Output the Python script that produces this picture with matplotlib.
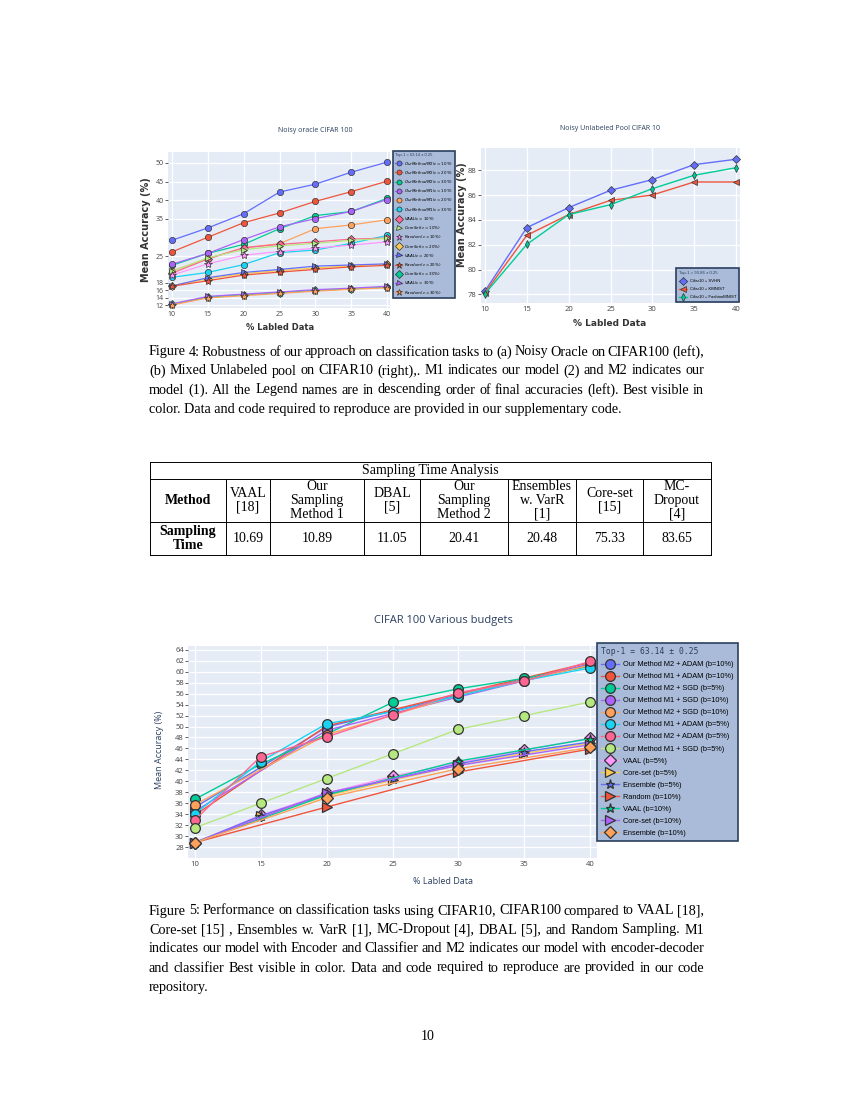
import matplotlib
matplotlib.use("Agg")
import matplotlib.pyplot as plt

# plotly default palette / template colours
PLOTLY = ['#636EFA', '#EF553B', '#00CC96', '#AB63FA', '#FFA15A',
          '#19D3F3', '#FF6692', '#B6E880', '#FF97FF', '#FECB52']
BG = '#E5ECF6'
LEG_BG = '#A9BBD8'
INK = '#2a3f5f'
EDGE = '#333333'
SERIF = 'Liberation Serif'
SANS = 'Open Sans'
LEGF = 'Liberation Sans'

# ---------------- Figure 4 (left): noisy oracle CIFAR 100 ----------------
noisy_x = [10, 15, 20, 25, 30, 35, 40]
noisy_m2_10 = [29.3, 32.6, 36.4, 42.2, 44.3, 47.5, 50.2]
noisy_m2_20 = [26.2, 30.1, 34.0, 36.6, 39.7, 42.3, 45.1]
noisy_m2_30 = [22.6, 25.8, 28.2, 32.4, 35.9, 37.0, 40.5]
noisy_m1_10 = [22.9, 25.8, 29.5, 32.9, 35.1, 37.0, 40.2]
noisy_m1_20 = [21.1, 24.4, 27.3, 28.4, 32.4, 33.4, 34.8]
noisy_m1_30 = [19.4, 20.7, 22.8, 26.0, 26.7, 28.5, 30.6]
noisy_vaal_10 = [20.5, 24.3, 27.3, 28.2, 28.9, 29.6, 29.9]
noisy_core_10 = [21.0, 24.6, 26.8, 27.8, 28.5, 29.3, 29.8]
noisy_rand_10 = [20.0, 23.0, 25.3, 26.3, 27.2, 28.0, 28.9]
noisy_core_20 = [17.2, 19.0, 20.4, 21.2, 21.9, 22.5, 22.9]
noisy_vaal_20 = [17.1, 19.3, 20.7, 21.5, 22.4, 22.7, 23.0]
noisy_rand_20 = [17.0, 18.5, 20.0, 20.8, 21.5, 22.2, 22.6]
noisy_core_30 = [12.2, 14.1, 14.7, 15.3, 15.9, 16.3, 16.8]
noisy_vaal_30 = [12.3, 14.3, 14.9, 15.5, 16.1, 16.5, 17.0]
noisy_rand_30 = [12.0, 13.9, 14.5, 15.1, 15.7, 16.2, 16.6]
noisy_labels = [r'$Our Method M2 (\epsilon = 10\%)$', r'$Our Method M2 (\epsilon = 20\%)$',
                r'$Our Method M2 (\epsilon = 30\%)$', r'$Our Method M1 (\epsilon = 10\%)$',
                r'$Our Method M1 (\epsilon = 20\%)$', r'$Our Method M1 (\epsilon = 30\%)$',
                r'$VAAL (\epsilon = 10\%)$', r'$Core Set (\epsilon = 10\%)$',
                r'$Random (\epsilon = 10\%)$', r'$Core Set (\epsilon = 20\%)$',
                r'$VAAL (\epsilon = 20\%)$', r'$Random (\epsilon = 20\%)$',
                r'$Core Set (\epsilon = 30\%)$', r'$VAAL (\epsilon = 30\%)$',
                r'$Random (\epsilon = 30\%)$']
noisy_series = [noisy_m2_10, noisy_m2_20, noisy_m2_30, noisy_m1_10, noisy_m1_20,
                noisy_m1_30, noisy_vaal_10, noisy_core_10, noisy_rand_10,
                noisy_core_20, noisy_vaal_20, noisy_rand_20,
                noisy_core_30, noisy_vaal_30, noisy_rand_30]
noisy_markers = ['o'] * 6 + ['D', '>', '*'] * 3
noisy_yticks = [12, 14, 16, 18, 25, 35, 40, 45, 50]

# ---------------- Figure 4 (right): noisy unlabeled pool CIFAR 10 ----------------
pool_x = [10, 15, 20, 25, 30, 35, 40]
pool_svhn = [78.27, 83.38, 84.99, 86.39, 87.25, 88.46, 88.89]
pool_kmnist = [78.13, 82.76, 84.43, 85.58, 86.01, 87.06, 87.06]
pool_fashion = [78.05, 82.03, 84.43, 85.23, 86.52, 87.60, 88.21]
pool_labels = ['Cifar10 + SVHN', 'Cifar10 + KMNIST', 'Cifar10 + FashionMNIST']

# ---------------- Table ----------------
table_title = 'Sampling Time Analysis'
table_methods = ['VAAL\n[18]', 'Our\nSampling\nMethod 1', 'DBAL\n[5]',
                 'Our\nSampling\nMethod 2', 'Ensembles\nw. VarR\n[1]',
                 'Core-set\n[15]', 'MC-\nDropout\n[4]']
table_times = [10.69, 10.89, 11.05, 20.41, 20.48, 75.33, 83.65]

# ---------------- Figure 5: CIFAR 100 various budgets ----------------
budget_x5 = [10, 15, 20, 25, 30, 35, 40]
budget_x10 = [10, 20, 30, 40]
m2_adam_10 = [35.2, 49.9, 55.8, 61.4]
m1_adam_10 = [33.8, 50.1, 56.0, 61.7]
m2_sgd_5 = [36.7, 43.1, 48.6, 54.4, 56.9, 58.8, 61.0]
m1_sgd_10 = [34.5, 49.3, 55.4, 61.3]
m2_sgd_10 = [35.7, 48.5, 55.7, 61.2]
m1_adam_5 = [34.0, 43.6, 50.5, 52.7, 55.6, 58.4, 60.7]
m2_adam_5 = [32.9, 44.5, 48.1, 52.1, 56.2, 58.3, 61.9]
m1_sgd_5 = [31.5, 36.0, 40.5, 45.0, 49.5, 52.0, 54.5]
vaal_5 = [28.8, 33.8, 37.8, 40.9, 43.4, 45.7, 47.9]
coreset_5 = [28.8, 33.6, 37.3, 40.2, 42.9, 45.1, 47.0]
ensemble_5 = [28.8, 33.7, 37.6, 40.4, 43.2, 45.4, 47.2]
random_10 = [28.8, 35.3, 41.7, 45.9]
vaal_10 = [28.8, 37.5, 43.7, 47.8]
coreset_10 = [28.8, 37.9, 42.9, 46.7]
ensemble_10 = [28.8, 37.0, 42.3, 46.2]
budget_labels = ['Our Method M2 + ADAM (b=10%)', 'Our Method M1 + ADAM (b=10%)',
                 'Our Method M2 + SGD (b=5%)', 'Our Method M1 + SGD (b=10%)',
                 'Our Method M2 + SGD (b=10%)', 'Our Method M1 + ADAM (b=5%)',
                 'Our Method M2 + ADAM (b=5%)', 'Our Method M1 + SGD (b=5%)',
                 'VAAL (b=5%)', 'Core-set (b=5%)', 'Ensemble (b=5%)',
                 'Random (b=10%)', 'VAAL (b=10%)', 'Core-set (b=10%)',
                 'Ensemble (b=10%)']
budget_series = [(budget_x10, m2_adam_10), (budget_x10, m1_adam_10),
                 (budget_x5, m2_sgd_5), (budget_x10, m1_sgd_10),
                 (budget_x10, m2_sgd_10), (budget_x5, m1_adam_5),
                 (budget_x5, m2_adam_5), (budget_x5, m1_sgd_5),
                 (budget_x5, vaal_5), (budget_x5, coreset_5), (budget_x5, ensemble_5),
                 (budget_x10, random_10), (budget_x10, vaal_10),
                 (budget_x10, coreset_10), (budget_x10, ensemble_10)]
budget_markers = ['o'] * 8 + ['D', '>', '*', '>', '*', '>', 'D']

caption4 = ['Figure 4: Robustness of our approach on classification tasks to (a) Noisy Oracle on CIFAR100 (left),',
            '(b) Mixed Unlabeled pool on CIFAR10 (right),. M1 indicates our model (2) and M2 indicates our',
            'model (1). All the Legend names are in descending order of final accuracies (left). Best visible in',
            'color. Data and code required to reproduce are provided in our supplementary code.']
caption5 = ['Figure 5: Performance on classification tasks using CIFAR10, CIFAR100 compared to VAAL [18],',
            'Core-set [15] , Ensembles w. VarR [1], MC-Dropout [4], DBAL [5], and Random Sampling. M1',
            'indicates our model with Encoder and Classifier and M2 indicates our model with encoder-decoder',
            'and classifier Best visible in color. Data and code required to reproduce are provided in our code',
            'repository.']

W, H = 850, 1100
fig = plt.figure(figsize=(8.5, 11), dpi=100)
fig.patch.set_facecolor('white')

# page axes in pixel coordinates for captions, table and chart titles
pg = fig.add_axes([0, 0, 1, 1], zorder=0)
pg.set_xlim(0, W)
pg.set_ylim(H, 0)
pg.axis('off')


def rect(l, t, r, b):
    return [l / W, 1 - b / H, (r - l) / W, (b - t) / H]


def style(ax, xlim, ylim, yticks, fs):
    ax.set_facecolor(BG)
    for s in ax.spines.values():
        s.set_visible(False)
    ax.set_axisbelow(True)
    ax.grid(True, color='white', lw=0.9)
    ax.set_xlim(*xlim)
    ax.set_ylim(*ylim)
    ax.set_xticks([10, 15, 20, 25, 30, 35, 40])
    ax.set_yticks(yticks)
    ax.tick_params(axis='x', length=0, labelsize=fs, labelcolor='#444444', pad=2)
    ax.tick_params(axis='y', length=2, width=0.6, color='#444444', labelsize=fs,
                   labelcolor='#444444', pad=1)
    for t in ax.get_xticklabels() + ax.get_yticklabels():
        t.set_family(SANS)


def frame(leg, title_family=LEGF):
    leg.get_frame().set_linewidth(1.2)
    leg.get_title().set_color(INK)
    leg.get_title().set_family(title_family)


# ---- left chart ----
ax1 = fig.add_axes(rect(168, 152, 390, 308), zorder=2)
style(ax1, (9.45, 40.4), (11.2, 52.9), noisy_yticks, 5)
for i, (vals, lab, mk) in enumerate(zip(noisy_series, noisy_labels, noisy_markers)):
    ax1.plot(noisy_x, vals, marker=mk, color=PLOTLY[i % 10], lw=0.9, ms=4.5 if mk != '*' else 6,
             mfc=PLOTLY[i % 10], mec=EDGE, mew=0.5, label=lab)
leg1 = ax1.legend(loc='upper left', bbox_to_anchor=(393 / W, 1 - 151 / H),
                  bbox_transform=fig.transFigure, prop={'size': 2.9},
                  title='Top-1 = 63.14 ± 0.25', title_fontsize=3.0, alignment='left',
                  facecolor=LEG_BG, edgecolor=INK, framealpha=1, fancybox=False,
                  borderpad=0.6, labelspacing=0.55, handlelength=1.6, handletextpad=0.5,
                  borderaxespad=0, markerscale=0.8)
frame(leg1)

# ---- right chart ----
ax2 = fig.add_axes(rect(481, 148, 740, 303), zorder=2)
style(ax2, (9.52, 40.48), (77.3, 89.8), [78, 80, 82, 84, 86, 88], 5.5)
for i, (vals, lab, mk) in enumerate(zip([pool_svhn, pool_kmnist, pool_fashion],
                                        pool_labels, ['D', '<', 'd'])):
    ax2.plot(pool_x, vals, marker=mk, color=PLOTLY[i], lw=1.0, ms=4,
             mfc=PLOTLY[i], mec=EDGE, mew=0.5, label=lab)
leg2 = ax2.legend(loc='lower right', prop={'size': 3.1, 'family': LEGF},
                  title='Top-1 = 93.86 ± 0.25', title_fontsize=3.1, alignment='left',
                  facecolor=LEG_BG, edgecolor=INK, framealpha=1, fancybox=False,
                  borderpad=0.7, labelspacing=0.95, handlelength=1.9, handletextpad=0.6,
                  borderaxespad=0.15)
frame(leg2)

# ---- bottom chart ----
ax3 = fig.add_axes(rect(188, 646, 597, 858), zorder=2)
style(ax3, (9.5, 40.5), (26.0, 64.7), list(range(28, 65, 2)), 5.5)
for i, ((xs, ys), lab, mk) in enumerate(zip(budget_series, budget_labels, budget_markers)):
    ms = 7 if mk == 'o' else 6.5
    ax3.plot(xs, ys, marker=mk, color=PLOTLY[i % 10], lw=1.0, ms=ms,
             mfc=PLOTLY[i % 10], mec=EDGE, mew=0.9, label=lab)
leg3 = ax3.legend(loc='upper left', bbox_to_anchor=(597 / W, 1 - 643 / H),
                  bbox_transform=fig.transFigure, prop={'size': 5.3, 'family': LEGF},
                  title='Top-1 = 63.14 ± 0.25', title_fontsize=5.8, alignment='left',
                  facecolor=LEG_BG, edgecolor=INK, framealpha=1, fancybox=False,
                  borderpad=0.6, labelspacing=0.66, handlelength=2.4, handletextpad=0.5,
                  borderaxespad=0)
frame(leg3, 'DejaVu Sans Mono')

# ---- chart titles and axis labels ----
pg.text(315, 130, 'Noisy oracle CIFAR 100', fontsize=5, color=INK, family=SANS,
        ha='center', va='center')
pg.text(610, 128, 'Noisy Unlabeled Pool CIFAR 10', fontsize=5, color=INK, family=SANS,
        ha='center', va='center')
pg.text(146, 230, 'Mean Accuracy (%)', fontsize=7, weight='bold', color='#333333',
        rotation=90, ha='center', va='center')
pg.text(462, 215, 'Mean Accuracy (%)', fontsize=7, weight='bold', color='#333333',
        rotation=90, ha='center', va='center')
pg.text(280, 327, '% Labled Data', fontsize=6, weight='bold', color='#333333',
        ha='center', va='center')
pg.text(610, 324, '% Labled Data', fontsize=6.5, weight='bold', color='#333333',
        ha='center', va='center')
pg.text(443, 620, 'CIFAR 100 Various budgets', fontsize=8, color=INK, family=SANS,
        ha='center', va='center')
pg.text(160, 750, 'Mean Accuracy (%)', fontsize=6.5, color=INK, family=SANS,
        rotation=90, ha='center', va='center')
pg.text(443, 881, '% Labled Data', fontsize=6.5, color=INK, family=SANS,
        ha='center', va='center')

# ---- captions (justified like LaTeX) ----
renderer = fig.canvas.get_renderer()


def justify(line, y, x0=149, x1=704, last=False):
    kw = dict(fontsize=10.2, family=SERIF, va='center', ha='left', color='black')
    if last:
        pg.text(x0, y, line, **kw)
        return
    words = line.split()
    arts = [pg.text(0, y, w, **kw) for w in words]
    widths = [a.get_window_extent(renderer).width for a in arts]
    gap = (x1 - x0 - sum(widths)) / (len(words) - 1)
    x = x0
    for a, w in zip(arts, widths):
        a.set_x(x)
        x += w + gap


for k, line in enumerate(caption4):
    justify(line, 352 + 19 * k, last=(k == len(caption4) - 1))
for k, line in enumerate(caption5):
    justify(line, 911 + 19 * k, last=(k == len(caption5) - 1))

pg.text(428, 1036, '10', fontsize=10, family=SERIF, ha='center', va='center')

# ---- table ----
cols = [150, 226, 270, 364, 420, 508, 576, 643, 711]
rows = [462, 479, 522, 555]
lw = 0.7
for y in rows:
    pg.plot([cols[0], cols[-1]], [y, y], color='black', lw=lw)
pg.plot([cols[0], cols[0]], [rows[0], rows[-1]], color='black', lw=lw)
pg.plot([cols[-1], cols[-1]], [rows[0], rows[-1]], color='black', lw=lw)
for x in cols[1:-1]:
    pg.plot([x, x], [rows[1], rows[-1]], color='black', lw=lw)
tkw = dict(fontsize=10, family=SERIF, ha='center', va='center', linespacing=1.05)
pg.text((cols[0] + cols[-1]) / 2, (rows[0] + rows[1]) / 2, table_title, **tkw)
pg.text((cols[0] + cols[1]) / 2, (rows[1] + rows[2]) / 2, 'Method', weight='bold', **tkw)
pg.text((cols[0] + cols[1]) / 2, (rows[2] + rows[3]) / 2, 'Sampling\nTime', weight='bold', **tkw)
for j, (m, t) in enumerate(zip(table_methods, table_times)):
    cx = (cols[j + 1] + cols[j + 2]) / 2
    pg.text(cx, (rows[1] + rows[2]) / 2, m, **tkw)
    pg.text(cx, (rows[2] + rows[3]) / 2, f'{t:.2f}', **tkw)

fig.savefig('out.png', dpi=100)
